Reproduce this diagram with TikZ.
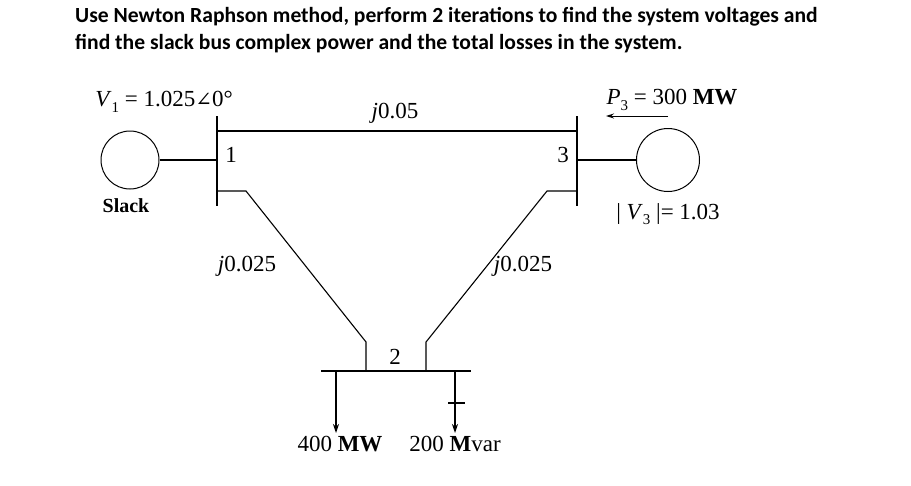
\documentclass[tikz,border=0pt]{standalone}
\usepackage{fontspec}
\setmainfont{Liberation Serif}
\newfontfamily\titlefont{Carlito}
\newfontfamily\symfont{DejaVu Serif}
\usetikzlibrary{arrows.meta}
\newcommand{\sbs}[1]{\raisebox{-0.25em}{\fontsize{15}{17}\selectfont #1}}
\begin{document}
\begin{tikzpicture}[x=1pt,y=-1pt,
  wire/.style={line width=1.1pt},
  bus/.style={line width=2pt},
  lbl/.style={font=\fontsize{23}{26}\selectfont, inner sep=0pt},
  ttl/.style={font=\titlefont\bfseries\fontsize{21.6}{25}\selectfont, anchor=west, inner sep=0pt},
  load/.style={line width=1.1pt,-{Stealth[length=9pt,width=6pt]}}]
\useasboundingbox (0,0) rectangle (911,485);
\node[ttl] (t1) at (75,17) {Use Newton Raphson method, perform 2 iterations to find the system voltages and};
\node[ttl] (t2) at (75,44) {find the slack bus complex power and the total losses in the system.};
% buses
\coordinate (b1t) at (217,116); \coordinate (b1b) at (217,206);
\coordinate (b3t) at (577,116); \coordinate (b3b) at (577,206);
\coordinate (b2l) at (321,371); \coordinate (b2r) at (471,371);
\draw[bus] (b1t) -- (b1b);
\draw[bus] (b3t) -- (b3b);
\draw[bus] (b2l) -- (b2r);
% generators
\node[draw, circle, minimum size=58pt, line width=1pt, inner sep=0pt] (g1) at (130,160) {};
\node[draw, circle, minimum size=63pt, line width=1pt, inner sep=0pt] (g3) at (668,160) {};
\draw[wire] (g1.east) -- (217,160);
\draw[wire] (g3.west) -- (577,160);
% lines
\draw[wire] (217,131) -- (577,131);
\draw[wire] (217,191) -- (246,191) -- (366,342) -- (366,371);
\draw[wire] (577,191) -- (547,191) -- (426,342) -- (426,371);
% loads
\draw[load] (336,371) -- (336,433);
\draw[load] (455,371) -- (455,433);
\draw[wire] (448,403) -- (465,403);
% P3 arrow
\draw[line width=1pt,-{Stealth[length=8pt,width=5pt]}] (668,116) -- (606,116);
% labels
\node[lbl] (n1) at (231,155) {1};
\node[lbl] (n3) at (563,155) {3};
\node[lbl] (n2) at (395,357) {2};
\node[lbl] (z12) at (395,113) {\textit{j}0.05};
\node[lbl] (z1) at (247,266) {\textit{j}0.025};
\node[lbl] (z3) at (523,266) {\textit{j}0.025};
\node[lbl] (v1) at (164,102) {\textit{V}\sbs{1} = 1.025{\symfont\fontsize{20}{22}\selectfont ∠}0°};
\node[lbl,font=\fontsize{20}{22}\selectfont\bfseries] (sl) at (126,206) {Slack};
\node[lbl] (p3) at (672,100) {\textit{P}\sbs{3} = 300 \textbf{MW}};
\node[lbl] (v3) at (668,214) {| \textit{V}\sbs{3} |= 1.03};
\node[lbl] (l1) at (340,444) {400 \textbf{MW}};
\node[lbl] (l2) at (455,444) {200 \textbf{M}var};
\end{tikzpicture}
\end{document}
